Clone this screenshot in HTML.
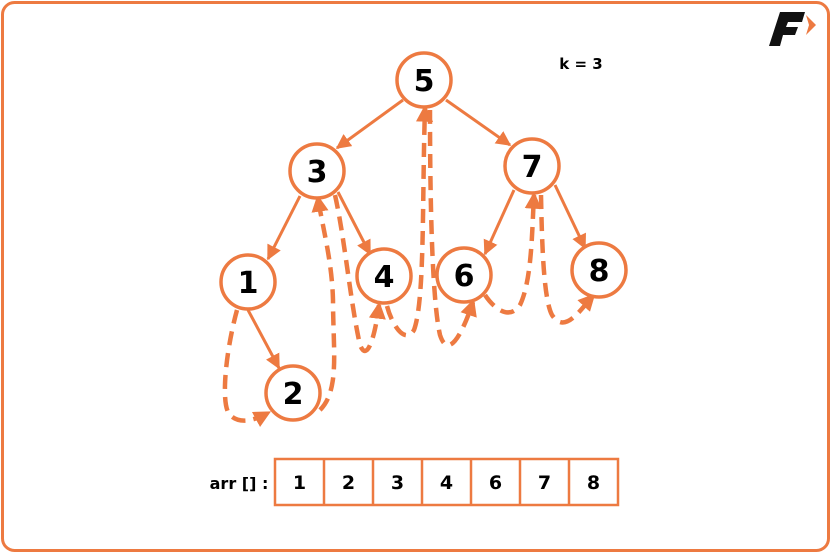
<!DOCTYPE html>
<html><head><style>
body{margin:0;width:831px;height:553px;background:#fff;overflow:hidden}
text{font-family:"DejaVu Sans","Liberation Sans",sans-serif;font-weight:bold}
</style></head><body>
<svg width="831" height="553" viewBox="0 0 831 553">
<defs>
<marker id="a" viewBox="0 0 10 10" refX="9" refY="5" markerWidth="5" markerHeight="5" orient="auto"><path d="M0,0L10,5L0,10z" fill="#ed7a41"/></marker>
<marker id="b" viewBox="0 0 10 10" refX="8" refY="5" markerWidth="3.8" markerHeight="3.8" orient="auto"><path d="M0,0L10,5L0,10z" fill="#ed7a41"/></marker>
</defs>
<rect x="2.5" y="2.5" width="826" height="548" rx="12" fill="none" stroke="#ed7a41" stroke-width="3"/>
<path d="M780,12h25l-3,10h-14l-2,5h12l-3,8h-12l-3,11h-11z" fill="#111"/>
<path d="M806,15l10,10l-10,10l3,-10z" fill="#ed7a41"/>
<text x="581" y="69" font-size="15" text-anchor="middle">k = 3</text>
<g stroke="#ed7a41" stroke-width="3" fill="none" marker-end="url(#a)">
<line x1="403" y1="100" x2="337" y2="148"/>
<line x1="446" y1="100" x2="510" y2="145"/>
<line x1="300" y1="196" x2="268" y2="259"/>
<line x1="338" y1="192" x2="370" y2="254"/>
<line x1="514" y1="190" x2="485" y2="254"/>
<line x1="555" y1="185" x2="585" y2="248"/>
<line x1="248" y1="310" x2="279" y2="368"/>
</g>
<g stroke="#ed7a41" stroke-width="4.5" fill="none" stroke-dasharray="14,8" marker-end="url(#b)">
<path d="M237,310 C226,350 220,405 230,415 C240,425 255,420 268,413"/>
<path d="M320,410 C340,390 333,350 333,300 C332,260 322,225 318,198"/>
<path d="M335,195 C345,240 350,300 360,345 C368,365 376,330 379,305"/>
<path d="M387,306 C392,325 405,345 414,330 C425,300 422,200 425,108"/>
<path d="M430,110 C430,200 432,300 440,335 C448,360 462,335 473,302"/>
<path d="M485,295 C495,310 510,320 520,305 C532,280 532,230 534,195"/>
<path d="M541,195 C542,250 544,300 552,315 C565,335 580,310 593,296"/>
</g>
<g fill="#fff" stroke="#ed7a41" stroke-width="3.5">
<circle cx="424" cy="80" r="27"/><circle cx="317" cy="171" r="27"/><circle cx="532" cy="166" r="27"/>
<circle cx="248" cy="282" r="27"/><circle cx="384" cy="276" r="27"/><circle cx="464" cy="275" r="27"/>
<circle cx="599" cy="270" r="27"/><circle cx="293" cy="393" r="27"/>
</g>
<g font-size="30" text-anchor="middle" fill="#000">
<text x="424" y="91">5</text><text x="317" y="182">3</text><text x="532" y="177">7</text>
<text x="248" y="293">1</text><text x="384" y="287">4</text><text x="464" y="286">6</text>
<text x="599" y="281">8</text><text x="293" y="404">2</text>
</g>
<text x="239" y="489" font-size="16" text-anchor="middle">arr [] :</text>
<g fill="none" stroke="#ed7a41" stroke-width="2.5">
<rect x="275" y="459" width="343" height="46"/>
<line x1="324" y1="459" x2="324" y2="505"/><line x1="373" y1="459" x2="373" y2="505"/>
<line x1="422" y1="459" x2="422" y2="505"/><line x1="471" y1="459" x2="471" y2="505"/>
<line x1="520" y1="459" x2="520" y2="505"/><line x1="569" y1="459" x2="569" y2="505"/>
</g>
<g font-size="19" text-anchor="middle">
<text x="299.5" y="489">1</text><text x="348.5" y="489">2</text><text x="397.5" y="489">3</text>
<text x="446.5" y="489">4</text><text x="495.5" y="489">6</text><text x="544.5" y="489">7</text><text x="593.5" y="489">8</text>
</g>
</svg>
</body></html>
